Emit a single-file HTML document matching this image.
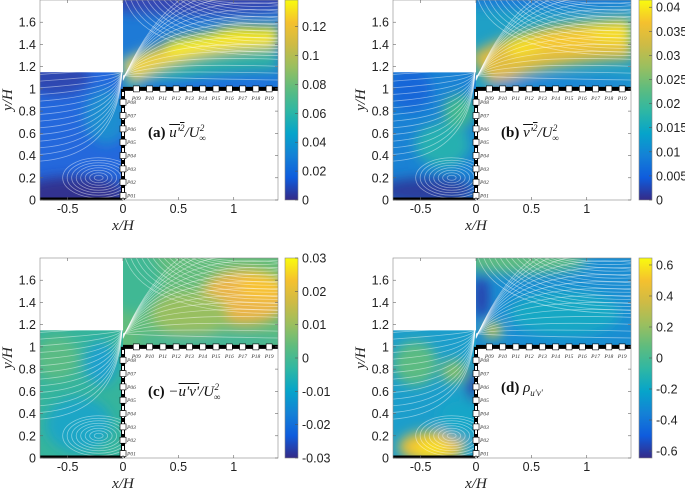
<!DOCTYPE html>
<html><head><meta charset="utf-8">
<style>
html,body{margin:0;padding:0;background:#fff;}
#wrap{position:relative;width:685px;height:490px;overflow:hidden;font-family:"Liberation Sans",sans-serif;}
svg{position:absolute;left:0;top:0;}
.lbl{position:absolute;font-family:"Liberation Serif",serif;font-size:15px;color:#111;white-space:nowrap;}
.lbl b{font-weight:bold;}
.ol{text-decoration:overline;}
</style></head>
<body>
<div id="wrap">
<svg id="fig" width="685" height="490" viewBox="0 0 685 490"></svg>
<div class="lbl" style="left:148px;top:123px"><b>(a)</b> <i><span class="ol">u'<sup style="font-size:9px">2</sup></span>/U<sub style="font-size:9px">∞</sub><sup style="font-size:9px;margin-left:-6px">2</sup></i></div>
<div class="lbl" style="left:501px;top:123px"><b>(b)</b> <i><span class="ol">v'<sup style="font-size:9px">2</sup></span>/U<sub style="font-size:9px">∞</sub><sup style="font-size:9px;margin-left:-6px">2</sup></i></div>
<div class="lbl" style="left:148px;top:382px"><b>(c)</b> <i>−<span class="ol">u'v'</span>/U<sub style="font-size:9px">∞</sub><sup style="font-size:9px;margin-left:-6px">2</sup></i></div>
<div class="lbl" style="left:501px;top:380px"><b>(d)</b> <i>ρ<sub style="font-size:9px">u'v'</sub></i></div>
</div>
<script>
// ---- data arrays ----
const xTicks = [-0.5, 0, 0.5, 1];
const yTicks = [0, 0.2, 0.4, 0.6, 0.8, 1, 1.2, 1.4, 1.6];
const cbTicksA = [0, 0.02, 0.04, 0.06, 0.08, 0.1, 0.12];
const cbRangeA = [0, 0.1385];
const cbTicksB = [0, 0.005, 0.01, 0.015, 0.02, 0.025, 0.03, 0.035, 0.04];
const cbRangeB = [0, 0.0415];
const cbTicksC = [-0.03, -0.02, -0.01, 0, 0.01, 0.02, 0.03];
const cbRangeC = [-0.03, 0.03];
const cbTicksD = [-0.6, -0.4, -0.2, 0, 0.2, 0.4, 0.6];
const cbRangeD = [-0.645, 0.645];
const probeTopX = [0.12, 0.24, 0.36, 0.48, 0.6, 0.72, 0.84, 0.96, 1.08, 1.2, 1.32];
const probeTopNames = ["P09","P10","P11","P12","P13","P14","P15","P16","P17","P18","P19"];
const probeWallY = [0.04, 0.16, 0.28, 0.40, 0.52, 0.64, 0.76, 0.88];
const probeWallNames = ["P01","P02","P03","P04","P05","P06","P07","P08"];

const NS="http://www.w3.org/2000/svg";
const svg=document.getElementById('fig');
function mk(tag,attrs,parent){const e=document.createElementNS(NS,tag);for(const k in attrs)e.setAttribute(k,attrs[k]);(parent||svg).appendChild(e);return e;}
const W=238,H=200,X0=-0.75,X1=1.4,Y0=0,Y1=1.8;
const parula=["#352a87","#0f5cdd","#1481d6","#06a4ca","#2eb7a4","#5dbc7f","#9abf5f","#cebb45","#f5c12e","#f9fb0e"];

const defs=mk('defs',{});
const blur=mk('filter',{id:'bl',x:'-50%',y:'-50%',width:'200%',height:'200%'},defs);
mk('feGaussianBlur',{stdDeviation:'6'},blur);
const cbg=mk('linearGradient',{id:'parula',x1:'0',y1:'1',x2:'0',y2:'0'},defs);
parula.forEach((c,i)=>mk('stop',{offset:(i/(parula.length-1)),'stop-color':c},cbg));

const panels=[
 {id:'a',ox:40,oy:0,cbx:285,ticks:cbTicksA,range:cbRangeA,lowBase:'#2468dc',upBase:'#1e7ad6',
  blobs:[['e',-0.45,0.05,0.5,0.16,'#33318f'],['e',-0.6,1.1,0.3,0.15,'#2f46b0'],['e',-0.15,0.75,0.2,0.25,'#1a8ed0'],
         ['e',0.7,1.82,1.1,0.16,'#3446b2'],['p','M0,1.1 Q0.4,1.3 1.4,1.33',36,'#2fb0a6'],['p','M0.05,1.15 Q0.5,1.42 1.4,1.47',20,'#f2d23a'],['p','M0.4,1.36 Q0.9,1.48 1.4,1.5',14,'#fbf020'],['e',1.1,1.48,0.3,0.08,'#f8e818'],['e',0.8,1.04,0.7,0.05,'#1e6de0']]},
 {id:'b',ox:393,oy:0,cbx:639,ticks:cbTicksB,range:cbRangeB,lowBase:'#1a82d4',upBase:'#1fa0c6',
  blobs:[['e',-0.45,0.08,0.45,0.12,'#2c3d9e'],['e',-0.3,0.5,0.25,0.2,'#28b0b0'],['e',-0.15,0.8,0.15,0.15,'#40b890'],['e',-0.6,1.0,0.2,0.2,'#1466d8'],
         ['e',0.7,1.82,1.0,0.1,'#1c78d8'],['p','M0.05,1.15 Q0.4,1.4 1.4,1.45',40,'#e0bc40'],['p','M0.3,1.35 Q0.8,1.5 1.4,1.5',18,'#f8de28'],['e',0.8,1.45,0.3,0.1,'#f6c830'],['e',0.8,1.04,0.7,0.06,'#1c80dc']]},
 {id:'c',ox:40,oy:258,cbx:285,ticks:cbTicksC,range:cbRangeC,lowBase:'#36b49c',upBase:'#62bc7c',
  blobs:[['e',-0.4,0.3,0.3,0.25,'#1ea6c6'],['e',-0.2,0.85,0.15,0.2,'#1aa0cc'],['e',-0.6,0.9,0.2,0.2,'#5abb84'],
         ['e',1.1,1.45,0.4,0.25,'#eab548'],['e',1.25,1.55,0.2,0.12,'#f8c232'],['e',0.6,1.3,0.35,0.2,'#98bf60'],['e',0.1,1.6,0.25,0.3,'#3fb894'],['e',0.8,1.05,0.7,0.06,'#3eb4a0']]},
 {id:'d',ox:393,oy:258,cbx:639,ticks:cbTicksD,range:cbRangeD,lowBase:'#1c9ecb',upBase:'#1a8dd2',
  blobs:[['e',-0.4,0.1,0.3,0.14,'#f3c232'],['e',-0.4,0.08,0.15,0.07,'#f8e020'],['e',-0.55,0.85,0.2,0.2,'#5cbb82'],['e',-0.2,0.78,0.12,0.1,'#80be6a'],['e',-0.03,0.65,0.05,0.15,'#2d3aa8'],['e',-0.15,0.35,0.2,0.2,'#18a6c8'],
         ['e',0.4,1.78,0.6,0.12,'#5dbb82'],['e',0.05,1.45,0.06,0.2,'#2a36a8'],['e',0.15,1.15,0.08,0.06,'#f0d030'],['e',0.8,1.3,0.5,0.2,'#16a8c4']]}
];

panels.forEach(P=>{
  const g=mk('g',{transform:`translate(${P.ox},${P.oy})`});
  
  
  const sx=x=>(x-X0)/(X1-X0)*W, sy=y=>H-(y-Y0)/(Y1-Y0)*H;
  const cp=mk('clipPath',{id:'cl'+P.id},defs);
  const poly=[[-0.75,0],[0,0],[0,1],[1.4,1],[1.4,1.8],[0,1.8],[0,1.15],[-0.75,1.15]];
  mk('polygon',{points:poly.map(p=>sx(p[0])+','+sy(p[1])).join(' ')},cp);
  const f=mk('g',{'clip-path':`url(#cl${P.id})`},g);
  mk('rect',{x:sx(-0.75),y:sy(1.15),width:sx(0)-sx(-0.75),height:sy(0)-sy(1.15),fill:P.lowBase},f);
  mk('rect',{x:sx(0),y:0,width:sx(1.4)-sx(0),height:sy(1),fill:P.upBase},f);
  const bg=mk('g',{filter:'url(#bl)'},f);
  P.blobs.forEach(b=>{
    if(b[0]==='e') mk('ellipse',{cx:sx(b[1]),cy:sy(b[2]),rx:b[3]*110.7,ry:b[4]*111,fill:b[5]},bg);
    else{const d=b[1].replace(/(-?[\d.]+),(-?[\d.]+)/g,(m,a,c)=>sx(+a)+','+sy(+c));mk('path',{d:d,stroke:b[3],'stroke-width':b[2],fill:'none'},bg);}
  });
  const st=mk('g',{stroke:'#fff','stroke-opacity':'0.45','stroke-width':'0.8',fill:'none'},f);
  
  
  for(let k=0;k<16;k++){
    const y0=1.0+k*0.05;
    mk('path',{d:`M${sx(0)},${sy(1.12-k*0.003)} Q${sx(0.15+k*0.02)},${sy(y0+0.1+k*0.02)} ${sx(1.4)},${sy(y0+0.08+k*0.012)}`},st);
    mk('path',{d:`M${sx(0.02+k*0.05)},${sy(1.8)} Q${sx(0.2+k*0.06)},${sy(1.3+k*0.03)} ${sx(1.4)},${sy(1.3+k*0.032)}`},st);
  }
  for(let k=0;k<14;k++){
    const yy=0.35+k*0.06;
    mk('path',{d:`M${sx(-0.75)},${sy(yy)} Q${sx(-0.05)},${sy(yy+0.05)} ${sx(-0.01)},${sy(1.15)}`},st);
  }
  for(let k=1;k<9;k++){
    mk('ellipse',{cx:sx(-0.22),cy:sy(0.2),rx:k*4.5,ry:k*2.5},st);
  }
  mk('line',{x1:sx(-0.75),y1:sy(0)-1,x2:sx(0),y2:sy(0)-1,stroke:'#000','stroke-width':3},g);
  mk('line',{x1:sx(0),y1:sy(1),x2:sx(1.4),y2:sy(1),stroke:'#000','stroke-width':4},g);
  mk('line',{x1:sx(0),y1:sy(0),x2:sx(0),y2:sy(1),stroke:'#000','stroke-width':4},g);
  mk('line',{x1:sx(0),y1:sy(0),x2:sx(0),y2:sy(1),stroke:'#fff','stroke-width':2,'stroke-dasharray':'4 4'},g);
  probeTopX.forEach((x,i)=>{
    const r=mk('rect',{x:sx(x)-3,y:sy(1)-3,width:6,height:6,fill:'#fff',stroke:'#000','stroke-width':0.6},g);
    
    
    const t=mk('text',{x:sx(x),y:sy(1)+11,'font-size':'5.5','font-style':'italic','font-family':'Liberation Serif,serif','text-anchor':'middle',fill:'#333'},g);t.textContent=probeTopNames[i];
  });
  probeWallY.forEach((y,i)=>{
    const r=mk('rect',{x:sx(0)-3,y:sy(y)-3,width:6,height:6,fill:'#fff',stroke:'#000','stroke-width':0.6},g);
    
    
    const t=mk('text',{x:sx(0)+4,y:sy(y)+2,'font-size':'5.5','font-style':'italic','font-family':'Liberation Serif,serif',fill:'#333'},g);t.textContent=probeWallNames[i];
  });
  mk('rect',{x:0,y:0,width:W,height:H,fill:'none',stroke:'#888','stroke-width':0.6},g);
  xTicks.forEach(v=>{
    mk('line',{x1:sx(v),y1:H,x2:sx(v),y2:H-3,stroke:'#666','stroke-width':0.6},g);
    mk('line',{x1:sx(v),y1:0,x2:sx(v),y2:3,stroke:'#666','stroke-width':0.6},g);
    const t=mk('text',{x:sx(v),y:H+13,'font-size':'12.5','text-anchor':'middle',fill:'#222'},g);t.textContent=v;
  });
  yTicks.forEach(v=>{
    mk('line',{x1:0,y1:sy(v),x2:3,y2:sy(v),stroke:'#666','stroke-width':0.6},g);
    mk('line',{x1:W,y1:sy(v),x2:W-3,y2:sy(v),stroke:'#666','stroke-width':0.6},g);
    const t=mk('text',{x:-4,y:sy(v)+4.5,'font-size':'12.5','text-anchor':'end',fill:'#222'},g);t.textContent=v;
  });
  const xl=mk('text',{x:sx(0),y:H+30,'font-size':'15','font-style':'italic','font-family':'Liberation Serif,serif','text-anchor':'middle',fill:'#222'},g);xl.textContent='x/H';
  
  const yl=mk('text',{x:0,y:0,transform:`translate(-28,${sy(0.9)}) rotate(-90)`,'font-size':'15','font-style':'italic','font-family':'Liberation Serif,serif','text-anchor':'middle',fill:'#222'},g);yl.textContent='y/H';
  
  const cb=mk('g',{transform:`translate(${P.cbx},${P.oy})`});
  
  
  mk('rect',{x:0,y:0,width:13,height:H,fill:'url(#parula)',stroke:'#888','stroke-width':0.6},cb);
  const cy=v=>H-(v-P.range[0])/(P.range[1]-P.range[0])*H;
  P.ticks.forEach(v=>{
    mk('line',{x1:10,y1:cy(v),x2:13,y2:cy(v),stroke:'#555','stroke-width':0.6},cb);
    const t=mk('text',{x:17,y:cy(v)+4.5,'font-size':'12.5',fill:'#222'},cb);t.textContent=v;
    
  });
});
</script>
</body></html>
